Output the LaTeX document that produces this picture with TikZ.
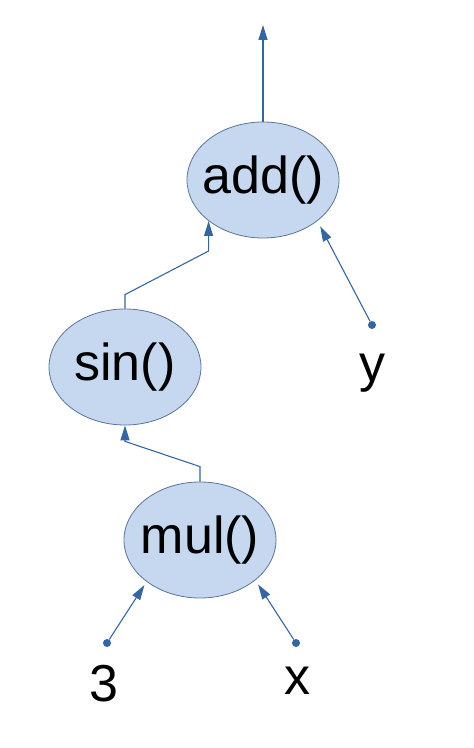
\documentclass[tikz,border=0pt]{standalone}
\usepackage{fontspec}
\setmainfont{Liberation Sans}
\usepackage{xcolor}
\usepackage{tikz}
\usetikzlibrary{arrows.meta}
\usetikzlibrary{shapes.geometric, calc}
\definecolor{fillblue}{RGB}{197,216,239}
\definecolor{edgeblue}{RGB}{92,116,156}
\definecolor{lineblue}{RGB}{52,101,164}
\newcommand{\fname}[1]{\makebox[0pt]{#1}}

\begin{document}
\begin{tikzpicture}[x=1pt, y=1pt,
  func/.style={ellipse, draw=edgeblue, line width=0.8pt, fill=fillblue,
    minimum width=152pt, minimum height=116pt, inner sep=0pt,
    font=\fontsize{52}{60}\selectfont},
  port/.style={circle, fill=lineblue, inner sep=0pt, minimum size=8pt},
  var/.style={anchor=base, inner sep=0pt, font=\fontsize{52}{60}\selectfont},
  link/.style={draw=lineblue, line width=1.1pt, -{Triangle[length=15pt, width=9pt]}}]
  \useasboundingbox (0,0) rectangle (474,748);

  \node[func] (add) at (263,568) {\fname{add()}};
  \node[func] (sin) at (125,381) {\fname{sin()}};
  \node[func] (mul) at (200,208) {\fname{mul()}};

  \node[port] (ydot) at (372,423) {};
  \node[port] (tdot) at (107,105) {};
  \node[port] (xdot) at (296,105) {};
  \node[var] (ylab) at (372,366) {y};
  \node[var] (tlab) at (104,46) {3};
  \node[var] (xlab) at (297,53) {x};

  \coordinate (out) at (263,723);
  \draw[link] (add.north) -- (out);

  \draw[link] (sin.north) -- ++(0,14) -- ($(add.217)+(0,-30)$) -- (add.217);
  \draw[link] (mul.north) -- ++(0,15) -- ($(sin.south)+(0,-16)$) -- (sin.south);

  \draw[link, shorten >=6pt] (ydot) -- (add.323);
  \draw[link, shorten >=4pt] (tdot) -- (mul.218);
  \draw[link, shorten >=5pt] (xdot) -- (mul.324);

\end{tikzpicture}
\end{document}
